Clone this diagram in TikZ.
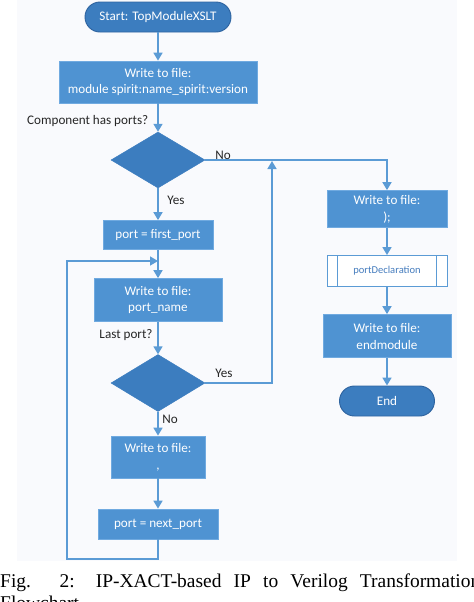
\documentclass[tikz,border=0pt]{standalone}
\usepackage{fontspec}
\setmainfont{Carlito}
\newfontfamily\capfont{Liberation Serif}
\usetikzlibrary{shapes.geometric,arrows.meta}

\definecolor{boxblue}{RGB}{79,147,210}
\definecolor{darkblue}{RGB}{60,125,191}
\definecolor{lineblue}{RGB}{91,155,213}
\definecolor{edgeblue}{RGB}{112,170,224}
\definecolor{termedge}{RGB}{47,100,160}
\definecolor{declblue}{RGB}{70,125,190}
\definecolor{paper}{RGB}{249,250,253}

\tikzset{
  flowbox/.style={rectangle, fill=boxblue, draw=edgeblue, line width=0.6pt,
    text=white, align=center, inner sep=0pt},
  terminal/.style={rectangle, rounded corners=0.45cm, fill=darkblue, draw=termedge,
    line width=0.8pt, text=white, minimum height=0.9cm, inner sep=0pt},
  decision/.style={diamond, fill=darkblue, draw=darkblue, inner sep=0pt},
  subproc/.style={rectangle, fill=white, draw=lineblue, line width=0.8pt,
    text=declblue, inner sep=0pt, font=\fontsize{9}{11}\selectfont},
  flow/.style={draw=lineblue, line width=1.4pt, -{Triangle[length=2.4mm,width=2.7mm]}},
  answer/.style={text=black!85, inner sep=0pt}
}

\begin{document}
\begin{tikzpicture}[x=0.03cm, y=-0.03cm, font=\fontsize{11.2}{14.5}\selectfont]
    % Cornice e sfondo
    \useasboundingbox (0,0) rectangle (474,602);
    \clip (0,0) rectangle (474,602);
    \fill[paper] (17,0) rectangle (457,561);

    % Colonna sinistra
    \node[terminal, minimum width=4.38cm] (start) at (158,17) {Start: TopModuleXSLT};
    \node[flowbox, minimum width=5.94cm, minimum height=1.26cm] (module) at (158,82)
        {Write to file:\\module spirit:name\_spirit:version};
    \node[decision, minimum width=2.82cm, minimum height=1.68cm] (hasports) at (158,160) {};
    \node[flowbox, minimum width=3.3cm, minimum height=0.87cm] (firstport) at (158,235)
        {port = first\_port};
    \node[flowbox, minimum width=3.84cm, minimum height=1.29cm] (portname) at (158,300)
        {Write to file:\\port\_name};
    \node[decision, minimum width=2.82cm, minimum height=1.71cm] (lastport) at (158,383) {};
    \node[flowbox, minimum width=2.82cm, minimum height=1.26cm] (comma) at (158,457)
        {Write to file:\\,};
    \node[flowbox, minimum width=3.6cm, minimum height=0.9cm] (nextport) at (158,524)
        {port = next\_port};

    % Colonna destra
    \node[flowbox, minimum width=3.6cm, minimum height=1.11cm] (close) at (387,209)
        {Write to file:\\);};
    \node[subproc, minimum width=3.6cm, minimum height=0.93cm] (decl) at (387,271)
        {portDeclaration};
    \draw[lineblue, line width=0.8pt] (decl.north west) ++(11,0) -- ++(0,31);
    \draw[lineblue, line width=0.8pt] (decl.north east) ++(-11,0) -- ++(0,31);
    \node[flowbox, minimum width=3.84cm, minimum height=1.29cm] (endmodule) at (387,336)
        {Write to file:\\endmodule};
    \node[terminal, minimum width=2.85cm] (end) at (387,401) {End};

    % Punti di giunzione
    \coordinate (join) at (272,161);
    \coordinate (loopin) at (158,261);
    \coordinate (loopcorner) at (67,559);

    % Connettori
    \draw[flow] (start) -- (module);
    \draw[flow] (module) -- (hasports);
    \draw[flow] (hasports.east) -| (close.north);
    \draw[flow] (hasports) -- (firstport);
    \draw[flow] (firstport) -- (portname);
    \draw[flow] (portname) -- (lastport);
    \draw[flow] (lastport.east) -| (join);
    \draw[flow] (lastport) -- (comma);
    \draw[flow] (comma) -- (nextport);
    \draw[flow] (nextport.south) |- (loopcorner) |- (loopin);
    \draw[flow] (close) -- (decl);
    \draw[flow] (decl) -- (endmodule);
    \draw[flow] (endmodule) -- (end);

    % Etichette
    \node[answer, anchor=west] (q1) at (27,121) {Component has ports?};
    \node[answer] (no1) at (223,155) {No};
    \node[answer] (yes1) at (176,200) {Yes};
    \node[answer] (q2) at (126,335) {Last port?};
    \node[answer] (yes2) at (224,373) {Yes};
    \node[answer] (no2) at (170,419) {No};

    % Didascalia
    \node[anchor=base west, inner sep=0pt, font=\capfont\fontsize{16.6}{18.8}\selectfont] (cap1) at (0,587)
        {\makebox[14.4cm][s]{Fig. 2: IP-XACT-based IP to Verilog Transformation}};
    \node[anchor=base west, inner sep=0pt, font=\capfont\fontsize{16.6}{18.8}\selectfont] (cap2) at (0,609)
        {Flowchart};
\end{tikzpicture}
\end{document}
